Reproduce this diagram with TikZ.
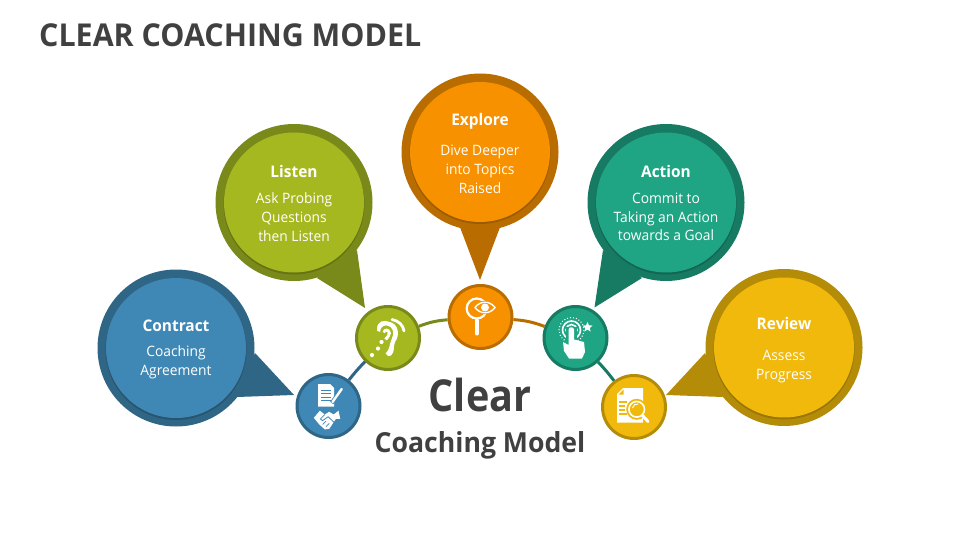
\documentclass[tikz,border=0pt]{standalone}
\usepackage{fontspec}
\setmainfont[FakeStretch=0.965]{Open Sans}
\newfontfamily\bigfont[FakeStretch=0.9]{Open Sans}
\definecolor{blueA}{HTML}{3F88B5}\definecolor{blueB}{HTML}{2F6585}
\definecolor{oliveA}{HTML}{A6B820}\definecolor{oliveB}{HTML}{7A8A1A}
\definecolor{orangeA}{HTML}{F79100}\definecolor{orangeB}{HTML}{B96D00}
\definecolor{greenA}{HTML}{1FA583}\definecolor{greenB}{HTML}{177A62}
\definecolor{yellowA}{HTML}{F0B90B}\definecolor{yellowB}{HTML}{B48C08}
\definecolor{ink}{HTML}{404040}
\tikzset{
  x=1pt,y=-1pt,
  outerc/.style={circle,fill=#1,minimum size=157pt,inner sep=0pt},
  innerc/.style={circle,fill=#1,minimum size=140pt,inner sep=0pt},
  smallc/.style={circle,fill=#1,minimum size=63pt,inner sep=0pt},
  heading/.style={font=\fontsize{16}{19}\selectfont\bfseries,text=white,inner sep=0pt,anchor=base},
  bodytext/.style={font=\fontsize{14.3}{18.7}\selectfont,text=white,align=center,inner sep=0pt},
  link/.style={line width=3pt},
  icon/.style={white,fill=white,draw=none},
  iconline/.style={white,line cap=round},
}
\begin{document}
\begin{tikzpicture}
\useasboundingbox (0,0) rectangle (960,540);
\node[anchor=base west,inner sep=0pt,font=\fontsize{31.5}{36}\selectfont\bfseries,text=ink] (title) at (39,46.5) {CLEAR COACHING MODEL};

% callout bodies
\node[outerc=blueB] (o1) at (176,348) {};
\node[outerc=oliveB] (o2) at (294,202.5) {};
\node[outerc=orangeB] (o3) at (480,152) {};
\node[outerc=greenB] (o4) at (666,202.5) {};
\node[outerc=yellowB] (o5) at (784,347.5) {};

% small circles
\node[smallc=blueA,draw=blueB,line width=3pt] (s1) at (328.5,406) {};
\node[smallc=oliveA,draw=oliveB,line width=3pt] (s2) at (388,338) {};
\node[smallc=orangeA,draw=orangeB,line width=3pt] (s3) at (480.5,317) {};
\node[smallc=greenA,draw=greenB,line width=3pt] (s4) at (575.5,338) {};
\node[smallc=yellowA,draw=yellowB,line width=3pt] (s5) at (634,407) {};

% tails
\fill[blueB] (255,353) -- (294,395) -- (237,397) -- cycle;
\fill[oliveB] (317,278) -- (357,250) -- (365,308) -- cycle;
\fill[orangeB] (458,222) -- (502,222) -- (480,280) -- cycle;
\fill[greenB] (603,250) -- (642,278) -- (594.5,307.5) -- cycle;
\fill[yellowB] (705,353) -- (723,397) -- (666,395) -- cycle;

% connectors
\draw[link,blueB] (s1) to[bend left=3] (s2);
\draw[link,oliveB] (s2) to[bend left=8] (s3);
\draw[link,orangeB] (s3) to[bend left=8] (s4);
\draw[link,greenB] (s4) to[bend left=3] (s5);

% inner discs with a soft shadow
\foreach \n in {1,2,3,4,5}{
  \fill[black,opacity=.16] ([yshift=-1.5pt]o\n.center) circle (70.5);
}
\node[innerc=blueA] (i1) at (o1) {};
\node[innerc=oliveA] (i2) at (o2) {};
\node[innerc=orangeA] (i3) at (o3) {};
\node[innerc=greenA] (i4) at (o4) {};
\node[innerc=yellowA] (i5) at (o5) {};

% texts
\node[heading] (h1) at (176,331.5) {Contract};
\node[bodytext] (b1) at (176,362.5) {Coaching\\Agreement};
\node[heading] (h2) at (294,177.5) {Listen};
\node[bodytext] (b2) at (294,217) {Ask Probing\\Questions\\then Listen};
\node[heading] (h3) at (480,125.5) {Explore};
\node[bodytext] (b3) at (480,169.5) {Dive Deeper\\into Topics\\Raised};
\node[heading] (h4) at (666,177.5) {Action};
\node[bodytext] (b4) at (666,217) {Commit to\\Taking an Action\\towards a Goal};
\node[heading] (h5) at (784,329.5) {Review};
\node[bodytext] (b5) at (784,366.5) {Assess\\Progress};
\node[font=\fontsize{44}{48}\bigfont\bfseries,text=ink,inner sep=0pt,anchor=base] (c1) at (480,411) {Clear};
\node[font=\fontsize{27.6}{30}\selectfont\bfseries,text=ink,inner sep=0pt,anchor=base] (c2) at (480,452) {Coaching Model};

% icon: document, pen, handshake
\fill[icon] (318,384) -- (330,384) -- (334,388) -- (334,406.5) -- (318,406.5) -- cycle;
\foreach \yy in {390,393.5,397,400.5}{\draw[blueA,line width=.9pt] (321,\yy) -- (331,\yy);}
\draw[blueA,line width=4pt] (341.7,389) -- (331.7,403);
\draw[white,line width=2.4pt,line cap=round] (341.7,389) -- (332.5,402);
\draw[white,line width=.8pt] (330,404) -- (326,405);
\begin{scope}[shift={(327,419.5)},scale=1.1,shift={(-327,-419.5)}]
\fill[icon] (315,418) -- (320.5,411.5) -- (325,415) -- (329,412.5) -- (333,415) -- (337.5,411.5) -- (339,419) -- (335,419) -- (329,428) -- (325,428.5) -- (320,424) -- cycle;
\draw[blueA,line width=.8pt] (325,415) -- (321,419) -- (323,420.5) -- (328,417) -- (334.5,423);
\draw[blueA,line width=.7pt] (323,424) -- (326,421) (326,426) -- (329,423);
\end{scope}

% icon: ear
\draw[iconline,line width=2.8pt] (392,319.5) .. controls (399,321) and (403,325) .. (404,331);
\begin{scope}[shift={(388,338)},scale=1.2,shift={(-388,-338)}]
\fill[icon] (379,332) .. controls (378,323) and (385,323) .. (389,324.5) .. controls (397,326) and (398,336) .. (394,341) .. controls (392,345) and (394,349) .. (391,352) .. controls (389,354) and (387,353) .. (386,351) .. controls (390,347) and (389,343) .. (391,339) .. controls (394,334) and (392,328) .. (387,327.5) .. controls (383,327) and (381,331) .. (381.5,333) -- cycle;
\fill[icon] (383.5,333) .. controls (384,329) and (390,329) .. (390.5,334) .. controls (390.5,337) and (388,338) .. (387,340) -- (385,338.5) .. controls (387,336) and (388.5,335) .. (387.5,333) .. controls (386.5,332) and (385.5,333) .. (385.5,334) -- cycle;
\end{scope}
\fill[icon] (372,355) circle (2.1) (378,348.5) circle (2.1) (381.5,342) circle (2.1) (386.5,338) circle (1.7);

% icon: magnifier with eye
\draw[white,line width=2.2pt] (476.7,308.5) circle (10);
\draw[white,line width=4pt,line cap=round] (476.7,320.5) -- (476.7,333.5);
\fill[orangeA] (473,307.5) .. controls (479,298.5) and (490,298.5) .. (497.5,307.5) .. controls (490,316.5) and (479,316.5) .. (473,307.5) -- cycle;
\draw[white,line width=1.4pt,fill=orangeA] (475,307.5) .. controls (480,300.5) and (490,300.5) .. (495,307.5) .. controls (490,314.5) and (480,314.5) .. (475,307.5) -- cycle;
\fill[white] (485,307.5) circle (4);

% icon: pointing hand with target and star
\draw[white,line width=1pt,dotted] (571.5,330) circle (12.5);
\draw[white,line width=1.6pt] (571.5,330) circle (9);
\draw[white,line width=1.6pt] (571.5,330) circle (5.5);
\fill[greenA] (566,327) rectangle (577,345);
\fill[icon] (568.5,329.5) .. controls (568.5,326.5) and (574,326.5) .. (574,329.5) -- (574,339.5) -- (584,342) -- (585,352) -- (582,358.5) -- (569,358.5) -- (564,351) -- (563,342) -- (568.5,345) -- cycle;
\fill[icon] (587.5,322) -- (588.9,325.3) -- (592.5,325.6) -- (589.8,328) -- (590.6,331.5) -- (587.5,329.6) -- (584.4,331.5) -- (585.2,328) -- (582.5,325.6) -- (586.1,325.3) -- cycle;

% icon: document with magnifier
\fill[icon] (623,388) -- (643,388) -- (643,422.5) -- (617,422.5) -- (617,394) -- cycle;
\fill[yellowA] (623.5,389.5) -- (623.5,394.5) -- (618.5,394.5) -- cycle;
\fill[yellowA] (636.7,409.3) circle (10.5);
\draw[white,line width=1.6pt] (636.7,409.3) circle (7.8);
\draw[white,line width=1pt] (632.5,408) arc[start angle=190,end angle=280,radius=5];
\draw[white,line width=3pt,line cap=round] (642.5,415.5) -- (648,421.5);
\foreach \yy/\xe in {402/627,406/625,410/625,414/627}{\draw[yellowA,line width=1.2pt] (619,\yy) -- (\xe,\yy);}
\end{tikzpicture}
\end{document}
